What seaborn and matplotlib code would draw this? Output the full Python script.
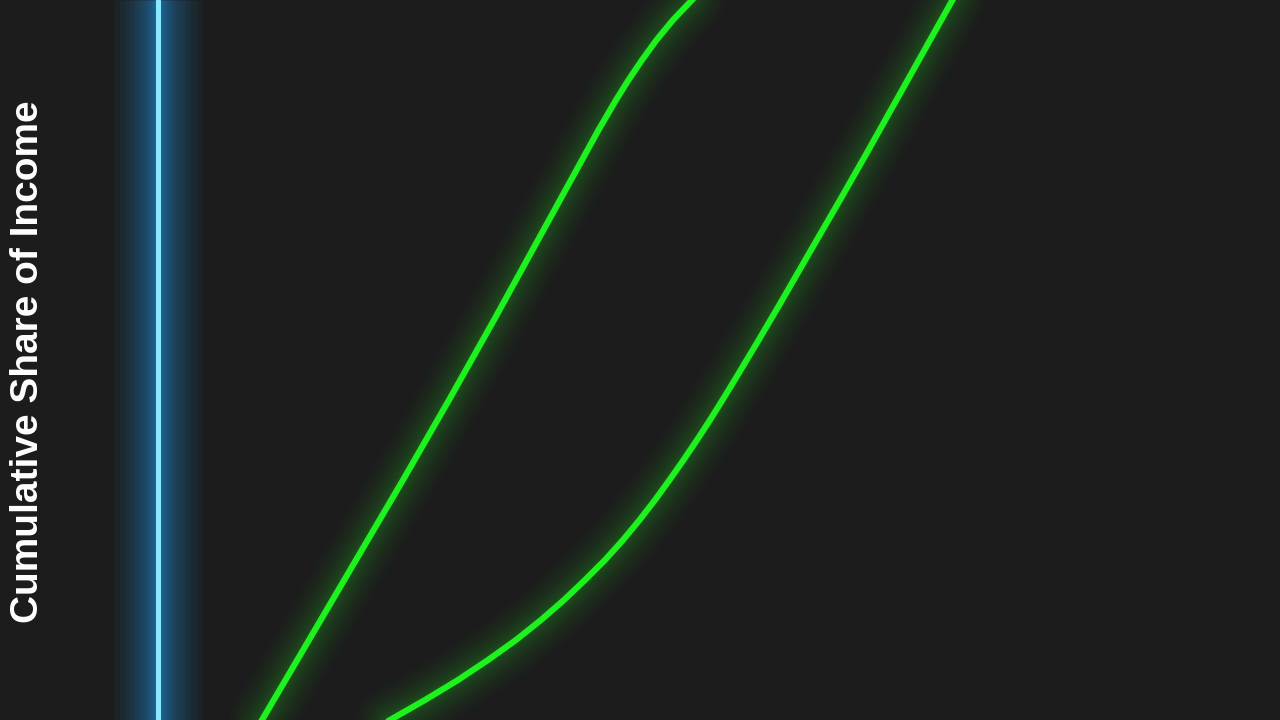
import numpy as np
import pandas as pd
import matplotlib
matplotlib.use("Agg")
import matplotlib.pyplot as plt
import seaborn as sns

# Lorenz-style curves (zoomed-in view), x = population share, y = income share
upper_x = [0.095, 0.104, 0.1275, 0.151, 0.1745, 0.198, 0.2215, 0.245, 0.268,
           0.291, 0.3135, 0.336, 0.358, 0.380, 0.402, 0.424, 0.4405, 0.458,
           0.4705, 0.484, 0.4985, 0.515, 0.534, 0.550]
upper_y = [-0.015, 0.000, 0.040, 0.080, 0.120, 0.160, 0.200, 0.240, 0.280,
           0.320, 0.360, 0.400, 0.440, 0.480, 0.520, 0.560, 0.590, 0.620,
           0.640, 0.660, 0.680, 0.700, 0.720, 0.735]

lower_x = [0.206, 0.232, 0.267, 0.300, 0.330, 0.358, 0.383, 0.406, 0.427,
           0.447, 0.465, 0.4815, 0.497, 0.5115, 0.5255, 0.539, 0.552, 0.5645,
           0.5767, 0.6007, 0.6242, 0.653, 0.682, 0.7105, 0.7385, 0.7665,
           0.7945, 0.803]
lower_y = [-0.015, 0.000, 0.020, 0.040, 0.060, 0.080, 0.100, 0.120, 0.140,
           0.160, 0.180, 0.200, 0.220, 0.240, 0.260, 0.280, 0.300, 0.320,
           0.340, 0.380, 0.420, 0.470, 0.520, 0.570, 0.620, 0.670,
           0.720, 0.735]

axis_x = 0.0
y_label = "Cumulative Share of Income"

BG = "#1c1c1c"
GREEN = "#1ef21e"
GLOW_GREEN = "#1f9a1f"
CYAN = "#8ae8ff"
GLOW_BLUE = "#2088cc"

sns.set_style("dark", {"axes.facecolor": BG, "figure.facecolor": BG})
plt.rcParams["font.family"] = ["Liberation Sans", "DejaVu Sans"]

fig = plt.figure(figsize=(12.8, 7.2), dpi=100)
ax = fig.add_axes([0, 0, 1, 1])
ax.set_facecolor(BG)

df = pd.concat([
    pd.DataFrame({"x": upper_x, "y": upper_y, "curve": "upper"}),
    pd.DataFrame({"x": lower_x, "y": lower_y, "curve": "lower"}),
])

# soft glow on the axis line, denser near the core
for lw in np.geomspace(64, 5, 18):
    ax.axvline(axis_x, color=GLOW_BLUE, lw=lw, alpha=0.065, solid_capstyle="butt")
ax.axvline(axis_x, color=CYAN, lw=3.6)

# glowing curves
for name in ["upper", "lower"]:
    sub = df[df["curve"] == name]
    for lw in np.geomspace(46, 6, 14):
        sns.lineplot(data=sub, x="x", y="y", ax=ax, color=GLOW_GREEN, lw=lw,
                     alpha=0.038, sort=False, estimator=None,
                     solid_joinstyle="round", solid_capstyle="round")
    sns.lineplot(data=sub, x="x", y="y", ax=ax, color=GREEN, lw=4.4,
                 sort=False, estimator=None,
                 solid_joinstyle="round", solid_capstyle="round")

ax.set_xlim(-0.158, 1.122)
ax.set_ylim(0, 0.72)
ax.set_xticks([])
ax.set_yticks([])
ax.set_xlabel("")
ax.set_ylabel("")
for s in ax.spines.values():
    s.set_visible(False)

fig.text(28 / 1280, 1 - 362 / 720, y_label, rotation=90, color="white",
         fontsize=28, fontweight="bold", ha="center", va="center")

fig.savefig("out.png", dpi=100, facecolor=BG)
